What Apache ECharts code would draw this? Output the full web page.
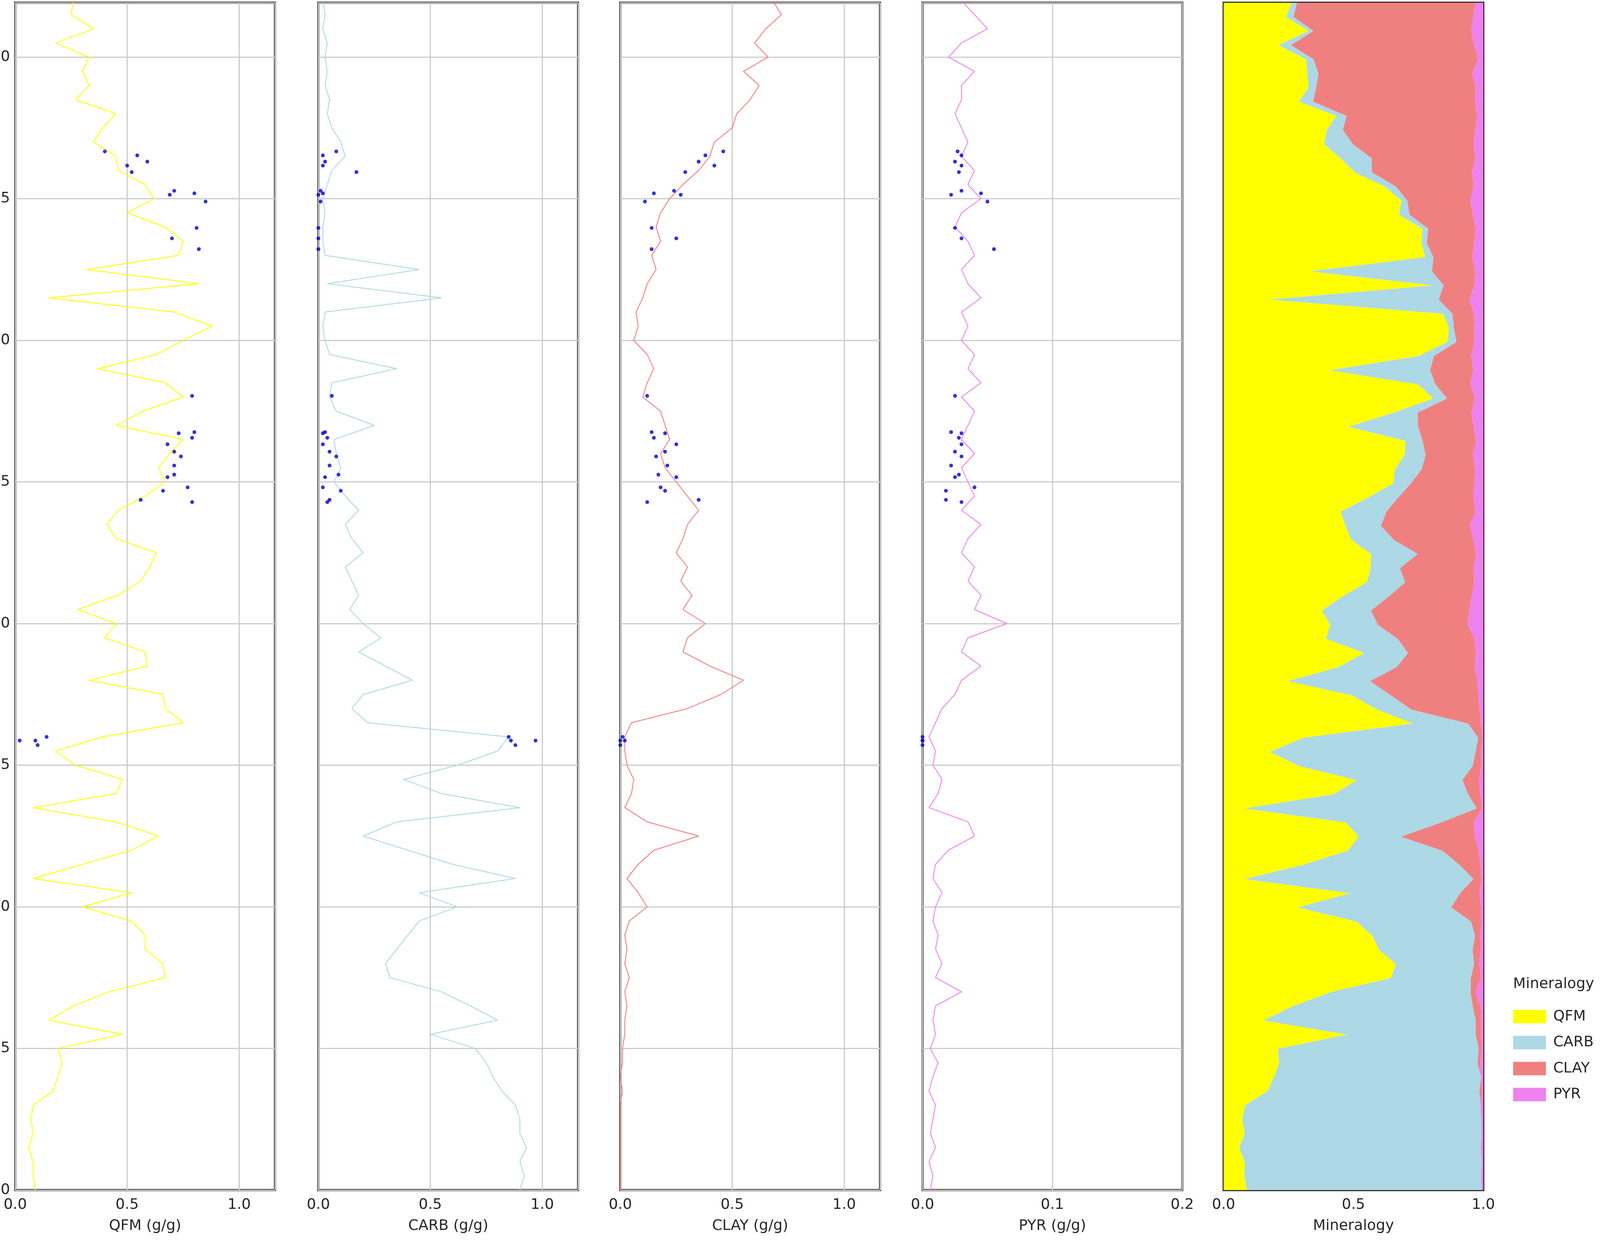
<!DOCTYPE html>
<html style="height: 100%">
<head>
<meta charset="utf-8">
<script src="https://cdn.jsdelivr.net/npm/echarts@6/dist/echarts.min.js"></script>
<style>
  html, body { margin: 0; height: 100%; width: 100%; background: #fff; overflow: hidden; }
  #main { width: 100vw; height: 100vh; }
</style>
</head>
<body>
<div id="main"></div>
<script>
// depth grid: top of log is D0 - 2, bottom is D0 + 40, sampled every 0.5
var D0 = 8450;
var depthStep = 0.5;
var depths = [];
for (var k = 0; k <= 84; k++) depths.push(D0 - 2 + k * depthStep);

var qfm = [0.26,0.25,0.35,0.18,0.33,0.30,0.33,0.27,0.45,0.39,0.35,0.45,0.46,0.58,0.62,0.50,0.67,0.75,0.73,0.32,
  0.82,0.15,0.71,0.88,0.75,0.63,0.37,0.67,0.75,0.57,0.45,0.75,0.69,0.64,0.67,0.58,0.46,0.41,0.45,0.63,
  0.60,0.56,0.46,0.28,0.45,0.40,0.58,0.59,0.33,0.66,0.67,0.75,0.39,0.18,0.27,0.48,0.45,0.08,0.45,0.64,
  0.52,0.30,0.08,0.52,0.30,0.52,0.58,0.58,0.66,0.67,0.42,0.26,0.15,0.48,0.19,0.21,0.19,0.17,0.08,0.07,
  0.08,0.06,0.08,0.08,0.09];
var carb = [0.02,0.03,0.02,0.04,0.03,0.04,0.03,0.05,0.04,0.06,0.10,0.12,0.06,0.04,0.02,0.03,0.02,0.02,0.03,0.45,
  0.04,0.55,0.03,0.02,0.03,0.05,0.35,0.06,0.05,0.08,0.25,0.07,0.08,0.10,0.07,0.12,0.18,0.12,0.15,0.20,
  0.12,0.15,0.18,0.14,0.20,0.28,0.18,0.30,0.42,0.20,0.15,0.22,0.85,0.80,0.62,0.38,0.55,0.90,0.35,0.20,
  0.40,0.60,0.88,0.45,0.62,0.45,0.40,0.35,0.30,0.32,0.55,0.68,0.80,0.50,0.70,0.75,0.78,0.82,0.88,0.90,
  0.90,0.93,0.90,0.92,0.90];
var clay = [0.68,0.72,0.65,0.60,0.66,0.55,0.62,0.58,0.52,0.50,0.42,0.40,0.35,0.28,0.22,0.18,0.16,0.18,0.14,0.16,
  0.12,0.10,0.07,0.08,0.06,0.12,0.15,0.12,0.10,0.18,0.20,0.22,0.18,0.20,0.25,0.30,0.35,0.30,0.28,0.25,
  0.30,0.27,0.32,0.28,0.38,0.30,0.28,0.40,0.55,0.45,0.30,0.05,0.02,0.02,0.03,0.06,0.05,0.02,0.12,0.35,
  0.15,0.08,0.03,0.08,0.12,0.04,0.02,0.03,0.02,0.04,0.02,0.03,0.02,0.02,0.01,0.01,0.00,0.01,0.00,0.00,
  0.00,0.00,0.00,0.00,0.00];
var pyr = [0.030,0.040,0.050,0.030,0.020,0.040,0.030,0.030,0.025,0.030,0.035,0.030,0.040,0.035,0.045,0.030,0.025,0.035,0.040,0.030,
  0.035,0.045,0.030,0.035,0.030,0.040,0.035,0.045,0.030,0.040,0.035,0.030,0.040,0.030,0.035,0.040,0.030,0.045,0.035,0.030,
  0.040,0.035,0.045,0.040,0.065,0.035,0.030,0.045,0.030,0.025,0.015,0.010,0.005,0.010,0.008,0.015,0.012,0.005,0.035,0.040,
  0.020,0.010,0.008,0.015,0.010,0.008,0.012,0.010,0.015,0.010,0.030,0.010,0.008,0.010,0.006,0.012,0.008,0.005,0.010,0.008,
  0.006,0.010,0.005,0.008,0.006];

// core samples (depth offset from D0)
var coreDepth = [3.33,3.47,3.69,3.83,4.06,4.72,4.86,4.81,5.10,6.03,6.40,6.78,
  11.96,13.28,13.24,13.44,13.67,13.93,14.10,14.42,14.74,14.83,15.31,15.19,15.63,15.71,
  24.13,24.13,24.29,24.00];
var coreQfm = [0.40,0.545,0.59,0.50,0.52,0.71,0.69,0.80,0.85,0.81,0.70,0.82,
  0.79,0.73,0.80,0.79,0.68,0.71,0.74,0.71,0.71,0.68,0.66,0.77,0.56,0.79,
  0.02,0.09,0.10,0.14];
var coreCarb = [0.08,0.02,0.03,0.02,0.17,0.01,0.00,0.02,0.01,0.00,0.00,0.00,
  0.06,0.02,0.03,0.04,0.02,0.05,0.08,0.05,0.09,0.03,0.10,0.02,0.05,0.04,
  0.97,0.86,0.88,0.85];
var coreClay = [0.46,0.38,0.35,0.42,0.29,0.24,0.27,0.15,0.11,0.14,0.25,0.14,
  0.12,0.20,0.14,0.15,0.25,0.20,0.16,0.21,0.17,0.25,0.20,0.18,0.35,0.12,
  0.00,0.02,0.00,0.01];
var corePyr = [0.027,0.030,0.025,0.030,0.028,0.030,0.022,0.045,0.050,0.025,0.030,0.055,
  0.025,0.030,0.022,0.028,0.030,0.025,0.030,0.022,0.028,0.025,0.018,0.040,0.018,0.030,
  0.000,0.000,0.000,0.000];

var names = ['QFM', 'CARB', 'CLAY', 'PYR'];
var colors = ['#ffff00', '#add8e6', '#f08080', '#ee82ee'];
var logs = [qfm, carb, clay, pyr];
var cores = [coreQfm, coreCarb, coreClay, corePyr];
var xMax = [1.16, 1.16, 1.16, 0.2];
var xInt = [0.5, 0.5, 0.5, 0.1];

// layout designed for 5458x3184, scaled to whatever the viewport is
var el = document.getElementById('main');
var sx = el.clientWidth / 5458, sy = el.clientHeight / 3184, s = Math.min(sx, sy);
function X(v) { return v * sx; }
function Y(v) { return v * sy; }
function S(v) { return v * s; }

var font = 'DejaVu Sans';
var ink = '#262626';
var lefts = [52, 1086, 2116, 3147, 4174];
var W = 886, TOP = 7, H = 3039;

var chart = echarts.init(el);
var grids = [], xAxes = [], yAxes = [], series = [];

for (var i = 0; i < 5; i++) {
  grids.push({left: X(lefts[i]), top: Y(TOP), width: X(W), height: Y(H), show: true,
    borderColor: ink, borderWidth: S(7), backgroundColor: 'transparent',
    containLabel: false, outerBoundsMode: 'none'});
  xAxes.push({
    gridIndex: i, type: 'value', min: 0, max: i < 4 ? xMax[i] : 1, interval: i < 4 ? xInt[i] : 0.5,
    name: i < 4 ? names[i] + ' (g/g)' : 'Mineralogy', nameLocation: 'middle', nameGap: S(98),
    nameTextStyle: {fontFamily: font, fontSize: S(50), color: ink},
    axisLine: {show: false}, axisTick: {show: false},
    axisLabel: {fontFamily: font, fontSize: S(50), color: ink, margin: S(26), showMaxLabel: i >= 3,
      formatter: function (v) { return v.toFixed(1); }},
    splitLine: {show: i < 4, lineStyle: {color: '#cccccc', width: S(4)}}
  });
}
for (var i = 0; i < 4; i++) {
  yAxes.push({
    gridIndex: i, type: 'value', inverse: true, min: D0 - 1.92, max: D0 + 40, splitNumber: 8,
    axisLine: {show: false}, axisTick: {show: false},
    axisLabel: {show: i === 0, showMinLabel: false, fontFamily: font, fontSize: S(50), color: ink, margin: S(18),
      formatter: function (v) { return String(v); }},
    splitLine: {show: true, lineStyle: {color: '#cccccc', width: S(4)}}
  });
}
yAxes.push({gridIndex: 4, type: 'category', inverse: true, boundaryGap: false,
  data: depths.map(String), axisLine: {show: false}, axisTick: {show: false},
  axisLabel: {show: false}, splitLine: {show: false}});

for (var i = 0; i < 4; i++) {
  var log = logs[i];
  series.push({type: 'line', name: names[i] + ' log', xAxisIndex: i, yAxisIndex: i,
    showSymbol: false, silent: true, z: 3,
    lineStyle: {color: colors[i], width: S(3)},
    data: depths.map(function (d, k) { return [log[k], d]; })});
  var core = cores[i];
  series.push({type: 'scatter', name: names[i] + ' core', xAxisIndex: i, yAxisIndex: i,
    symbolSize: S(13), z: 4, itemStyle: {color: '#0000cc'},
    data: coreDepth.map(function (d, k) { return [core[k], D0 + d]; })});
}

// stacked, normalised mineralogy track
for (var i = 0; i < 4; i++) {
  var log = logs[i];
  series.push({type: 'line', name: names[i], xAxisIndex: 4, yAxisIndex: 4, stack: 'min',
    showSymbol: false, silent: true, z: 2,
    lineStyle: {width: 0}, areaStyle: {color: colors[i], opacity: 1}, itemStyle: {color: colors[i]},
    data: depths.map(function (d, k) {
      var t = qfm[k] + carb[k] + clay[k] + pyr[k];
      return log[k] / t;
    })});
}

chart.setOption({
  animation: false,
  backgroundColor: '#fff',
  title: {text: 'Mineralogy', left: X(5155), top: Y(2495),
    textStyle: {fontFamily: font, fontSize: S(50), fontWeight: 'normal', color: ink}},
  legend: {data: names, orient: 'vertical', left: X(5155), top: Y(2578), icon: 'rect',
    itemWidth: S(112), itemHeight: S(46), itemGap: S(38),
    textStyle: {fontFamily: font, fontSize: S(50), color: ink, padding: [0, 0, 0, S(18)]}},
  grid: grids, xAxis: xAxes, yAxis: yAxes, series: series
});
</script>
</body>
</html>
